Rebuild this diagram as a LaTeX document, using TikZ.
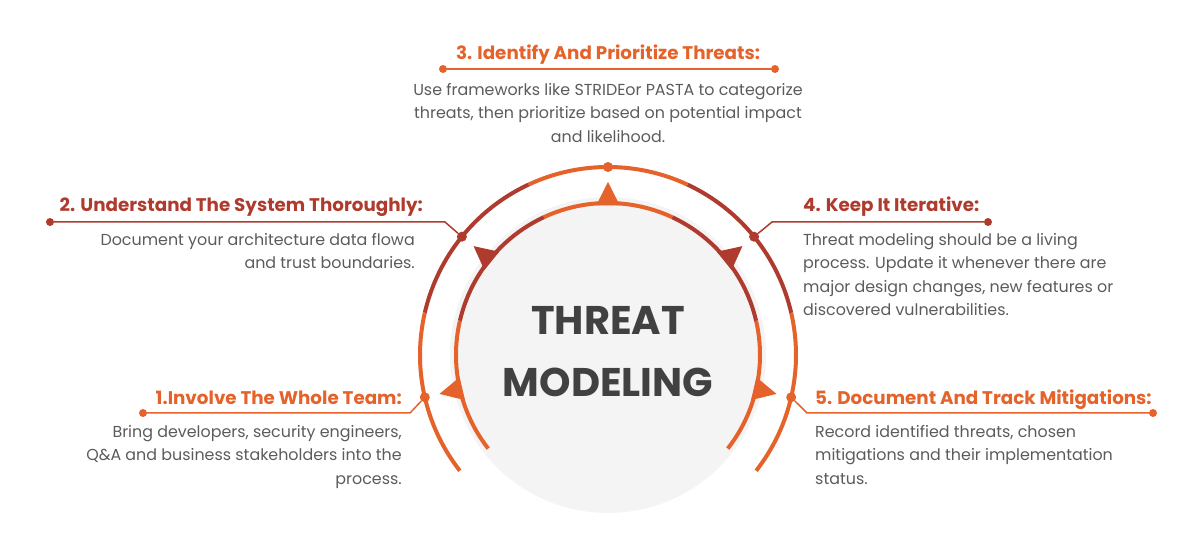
\documentclass[tikz,border=0pt]{standalone}
\usepackage{fontspec}
\setmainfont{Poppins}
\usetikzlibrary{positioning}
\definecolor{tmorange}{HTML}{E5622A}
\definecolor{tmred}{HTML}{AE3B2D}
\definecolor{tmgray}{HTML}{5B5B5B}
\definecolor{tmdark}{HTML}{414141}
\definecolor{tmdisk}{HTML}{F4F4F5}
\tikzstyle{arc_line} = [line width=4pt]
\tikzstyle{arc_dot} = [circle, inner sep=0pt, minimum size=10pt]
\tikzstyle{end_dot} = [circle, inner sep=0pt, minimum size=8pt]
\tikzstyle{leader} = [line width=1.5pt]
\tikzstyle{title} = [font=\fontsize{18.3}{22}\selectfont\bfseries, inner sep=0pt]
\tikzstyle{body} = [font=\fontsize{15.9}{23.5}\selectfont, text=tmgray, inner sep=0pt]
\tikzstyle{center_text} = [font=\fontsize{40}{62}\selectfont\bfseries, text=tmdark, align=center]

\begin{document}
\begin{tikzpicture}[x=1pt, y=1pt]
        \useasboundingbox (-608,-204) rectangle (596,355);
        \fill [tmdisk] (0,0) circle (158);
        \node (center) [center_text] at (0,3) {THREAT\\MODELING};

        % arcs
        \foreach \r in {152,188}
            \foreach \from/\to/\col in {-38/13/tmorange, 13/65/tmred, 65/115/tmorange, 115/167/tmred, 167/218/tmorange}
                \draw [arc_line, \col] (\from:\r) arc [start angle=\from, end angle=\to, radius=\r];

        % pointers on the inner arc
        \foreach \a/\col in {193/tmorange, 141/tmred, 90/tmorange, 39/tmred, -13/tmorange}
            \fill [\col] (\a:173) -- (\a+4.5:150) -- (\a-4.5:150) -- cycle;

        % dots on the outer arc
        \node (dot1) [arc_dot, fill=tmorange] at (193:188) {};
        \node (dot2) [arc_dot, fill=tmred] at (141:188) {};
        \node (dot3) [arc_dot, fill=tmorange] at (90:188) {};
        \node (dot4) [arc_dot, fill=tmred] at (39:188) {};
        \node (dot5) [arc_dot, fill=tmorange] at (-13:188) {};

        % 3. top
        \node (title3) [title, text=tmorange, anchor=base] at (0,295) {3. Identify And Prioritize Threats:};
        \node (end3a) [end_dot, fill=tmorange] at (-165,286) {};
        \node (end3b) [end_dot, fill=tmorange] at (167,286) {};
        \draw [leader, tmorange] (end3a) -- (end3b);
        \node (body3) [body, align=center, anchor=north] at (0,272) {Use frameworks like STRIDEor PASTA to categorize\\threats, then prioritize based on potential impact\\and likelihood.};

        % 2. upper left
        \coordinate (bend2) at (-163,133);
        \node (end2) [end_dot, fill=tmred] at (-558,133) {};
        \draw [leader, tmred] (end2) -- (bend2) -- (dot2);
        \node (title2) [title, text=tmred, anchor=base east] at (-185,143) {2. Understand The System Thoroughly:};
        \node (body2) [body, align=right, anchor=north east] at (-193,122) {Document your architecture data flowa\\and trust boundaries.};

        % 4. upper right
        \coordinate (bend4) at (164,133);
        \node (end4) [end_dot, fill=tmred] at (380,133) {};
        \draw [leader, tmred] (dot4) -- (bend4) -- (end4);
        \node (title4) [title, text=tmred, anchor=base west] at (195,143) {4. Keep It Iterative:};
        \node (body4) [body, align=left, anchor=north west] at (195,122) {Threat modeling should be a living\\process. Update it whenever there are\\major design changes, new features or\\discovered vulnerabilities.};

        % 1. lower left
        \coordinate (bend1) at (-198,-58);
        \node (end1) [end_dot, fill=tmorange] at (-465,-58) {};
        \draw [leader, tmorange] (end1) -- (bend1) -- (dot1);
        \node (title1) [title, text=tmorange, anchor=base east] at (-206,-50) {1.Involve The Whole Team:};
        \node (body1) [body, align=right, anchor=north east] at (-206,-70) {Bring developers, security engineers,\\Q\&A and business stakeholders into the\\process.};

        % 5. lower right
        \coordinate (bend5) at (199,-58);
        \node (end5) [end_dot, fill=tmorange] at (545,-58) {};
        \draw [leader, tmorange] (dot5) -- (bend5) -- (end5);
        \node (title5) [title, text=tmorange, anchor=base west] at (207,-50) {5. Document And Track Mitigations:};
        \node (body5) [body, align=left, anchor=north west] at (207,-70) {Record identified threats, chosen\\mitigations and their implementation\\status.};
\end{tikzpicture}
\end{document}
